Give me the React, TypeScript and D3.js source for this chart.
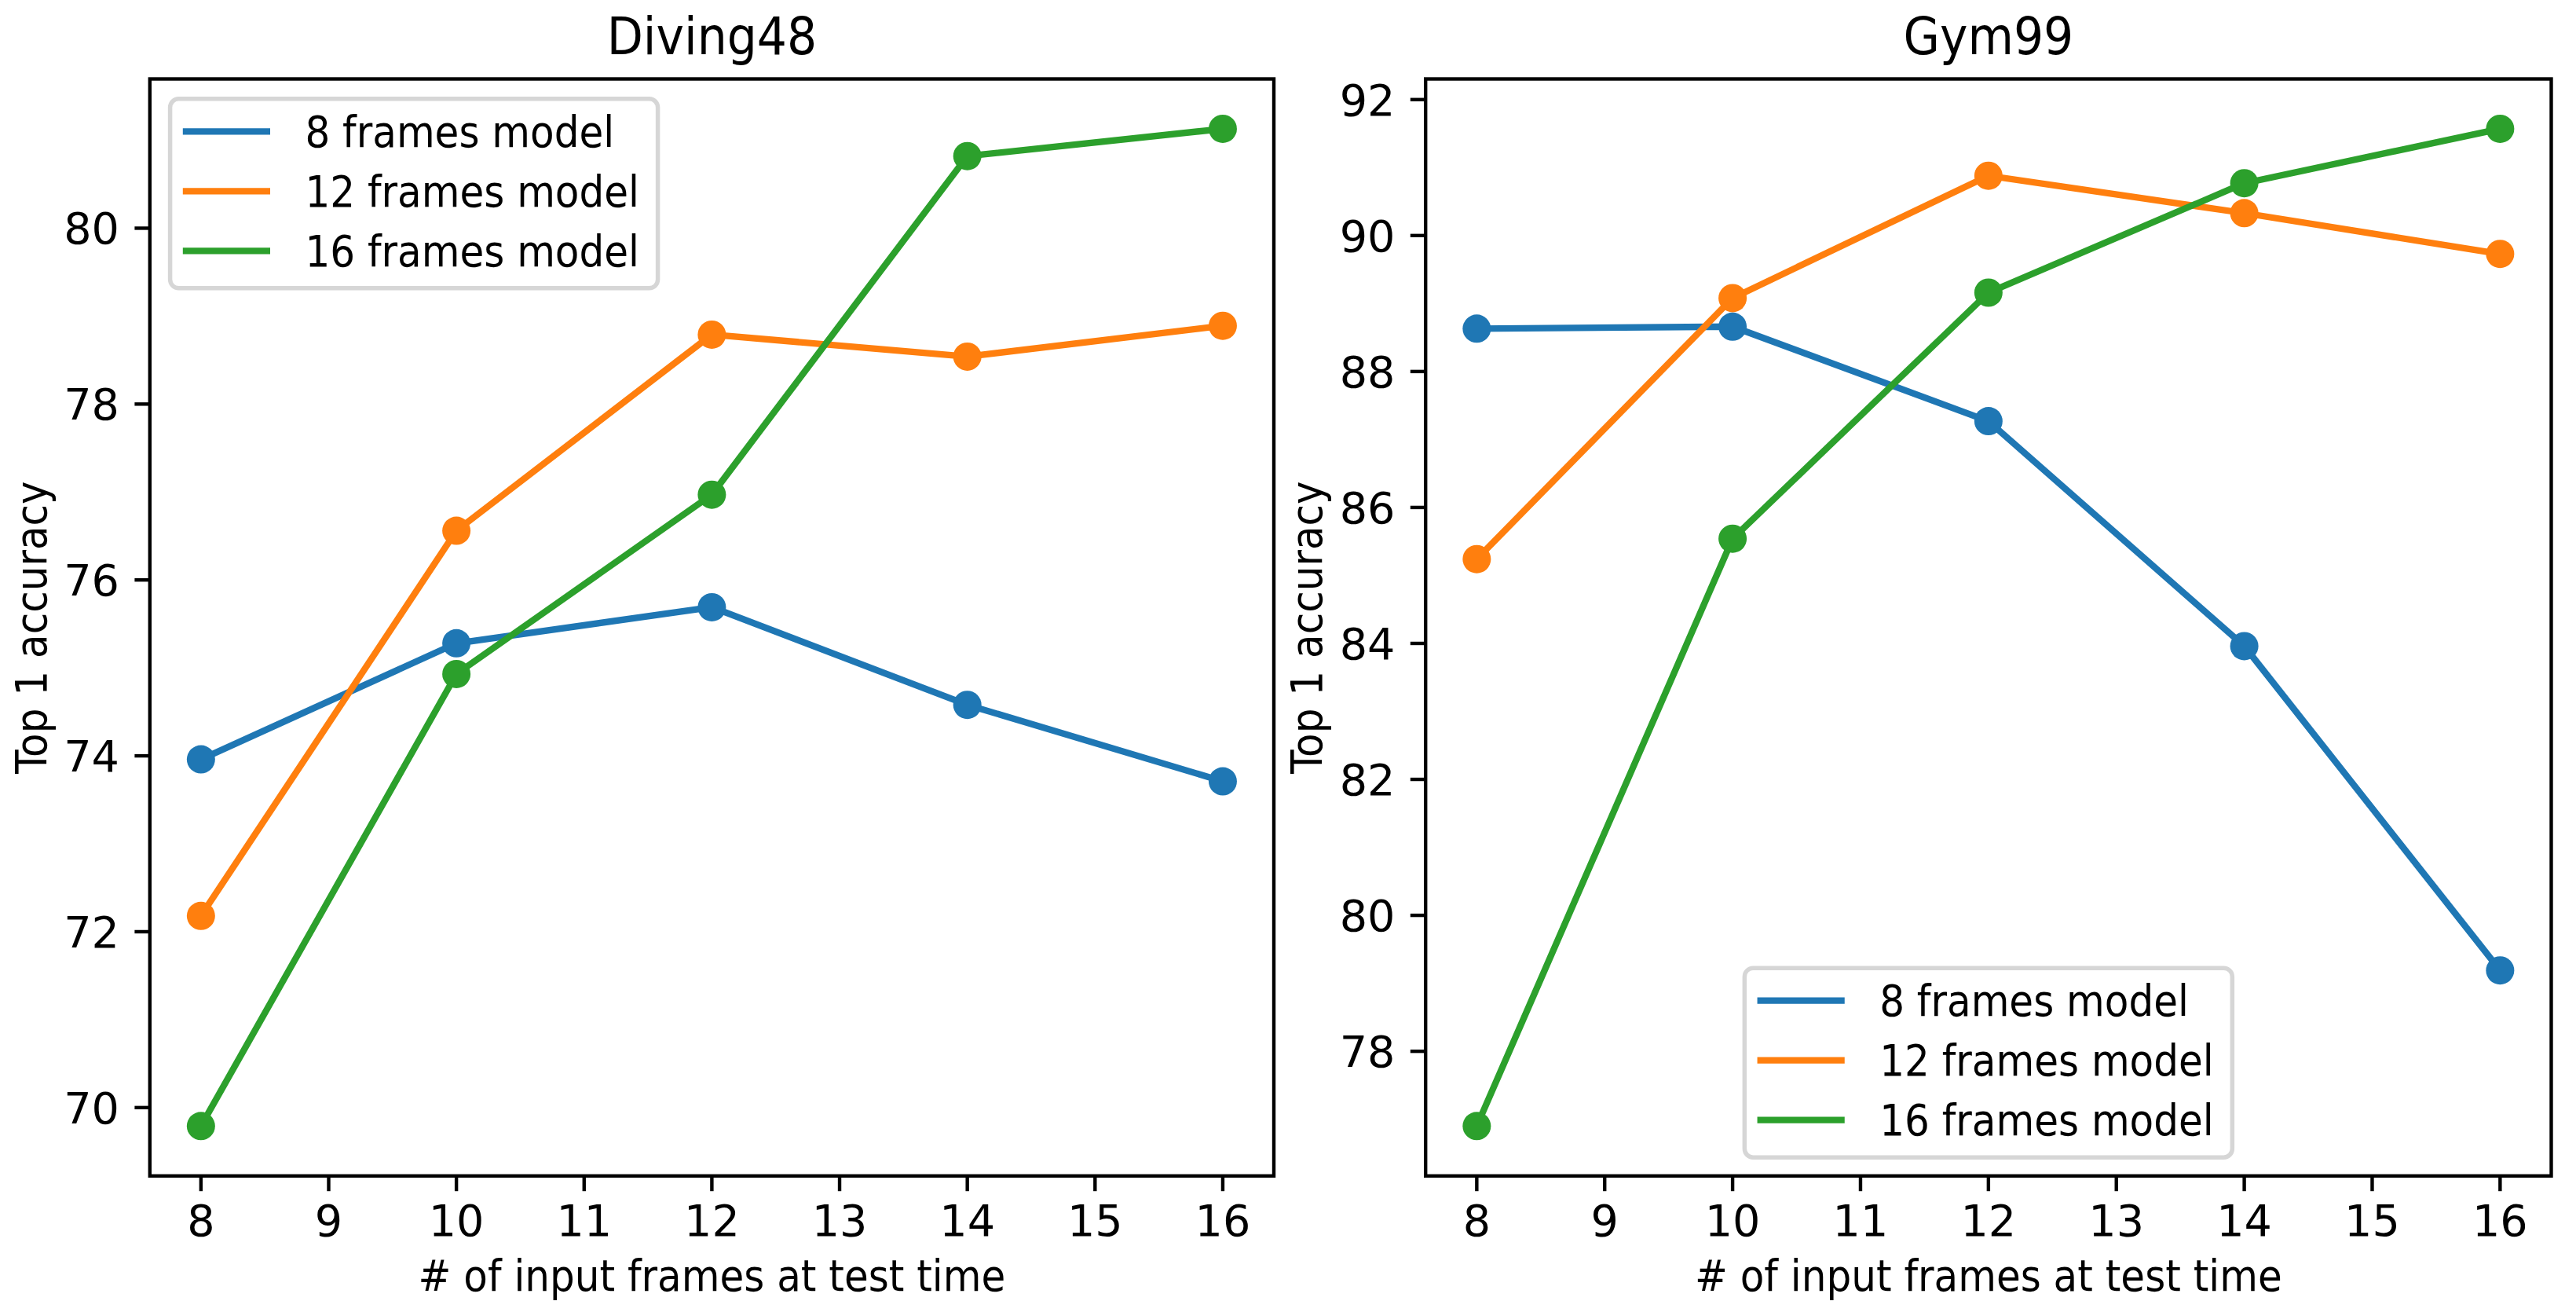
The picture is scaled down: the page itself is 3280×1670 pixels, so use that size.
import React from 'react';
import * as d3 from 'd3';

// test-time frame counts (x values)
const frames = [8, 10, 12, 14, 16];
const xTicks = [8, 9, 10, 11, 12, 13, 14, 15, 16];
const seriesNames = ['8 frames model', '12 frames model', '16 frames model'];
const colors = ['#1f77b4', '#ff7f0e', '#2ca02c'];

// Diving48
const diving8 = [73.96, 75.28, 75.69, 74.58, 73.71];
const diving12 = [72.18, 76.56, 78.79, 78.54, 78.89];
const diving16 = [69.79, 74.93, 76.97, 80.82, 81.13];
const divingTicks = [70, 72, 74, 76, 78, 80];

// Gym99
const gym8 = [88.63, 88.66, 87.27, 83.96, 79.19];
const gym12 = [85.24, 89.08, 90.88, 90.33, 89.73];
const gym16 = [76.9, 85.54, 89.16, 90.77, 91.57];
const gymTicks = [78, 80, 82, 84, 86, 88, 90, 92];

const W = 3280;
const H = 1670;
const FONT = 'DejaVu Sans';
// labels in the source come out a bit narrower than plain DejaVu
const LABEL_FONT = "'DejaVu Sans Condensed', 'DejaVu Sans'";
const FS = 55.6; // 10pt at 400 dpi
const TOP = 100.5;
const BOTTOM = 1496.8;
const LINE_W = 8.3;
const SPINE_W = 4.4;
const TICK_LEN = 19.4;

type Panel = {
  title: string;
  series: number[][];
  yTicks: number[];
  x0: number;
  x1: number;
  legend: 'upper left' | 'lower center';
};

const panels: Panel[] = [
  { title: 'Diving48', series: [diving8, diving12, diving16], yTicks: divingTicks, x0: 190.8, x1: 1622, legend: 'upper left' },
  { title: 'Gym99', series: [gym8, gym12, gym16], yTicks: gymTicks, x0: 1815.2, x1: 3248.5, legend: 'lower center' },
];

const Legend = ({ x, y }: { x: number; y: number }) => {
  const w = 621;
  const h = 241;
  return (
    <g transform={`translate(${x},${y})`}>
      <rect x={0} y={0} width={w} height={h} rx={11} fill="white" fillOpacity={0.8}
        stroke="#d6d6d6" strokeWidth={5.5} />
      {seriesNames.map((name, i) => {
        const ry = 41.5 + i * 76;
        return (
          <g key={name}>
            <line x1={16.2} x2={127.4} y1={ry} y2={ry} stroke={colors[i]} strokeWidth={LINE_W} />
            <text x={171.8} y={ry + 19.5} fontSize={FS} fontFamily={LABEL_FONT}>{name}</text>
          </g>
        );
      })}
    </g>
  );
};

const PanelView = ({ p }: { p: Panel }) => {
  const all = p.series.flat();
  const [lo, hi] = d3.extent(all) as [number, number];
  const pad = (hi - lo) * 0.05;
  const y = d3.scaleLinear().domain([lo - pad, hi + pad]).range([BOTTOM, TOP]);
  const x = d3.scaleLinear().domain([7.6, 16.4]).range([p.x0, p.x1]);
  const line = d3.line<number>().x((_, i) => x(frames[i])).y(d => y(d));
  const cx = (p.x0 + p.x1) / 2;
  const cy = (TOP + BOTTOM) / 2;

  const legendPos = p.legend === 'upper left'
    ? { x: p.x0 + 25.8, y: TOP + 25.3 }
    : { x: cx - 310.5, y: BOTTOM - 23.6 - 241 };

  return (
    <g>
      <text x={cx} y={69} textAnchor="middle" fontSize={66.7} fontFamily={LABEL_FONT}>{p.title}</text>

      {p.series.map((vals, si) => (
        <g key={si}>
          <path d={line(vals) || ''} fill="none" stroke={colors[si]} strokeWidth={LINE_W}
            strokeLinejoin="round" strokeLinecap="square" />
          {vals.map((v, i) => (
            <circle key={i} cx={x(frames[i])} cy={y(v)} r={18} fill={colors[si]} />
          ))}
        </g>
      ))}

      <Legend x={legendPos.x} y={legendPos.y} />

      {/* frame */}
      <rect x={p.x0} y={TOP} width={p.x1 - p.x0} height={BOTTOM - TOP} fill="none"
        stroke="black" strokeWidth={SPINE_W} strokeLinejoin="miter" />

      {xTicks.map(t => (
        <g key={t}>
          <line x1={x(t)} x2={x(t)} y1={BOTTOM} y2={BOTTOM + TICK_LEN} stroke="black" strokeWidth={SPINE_W} />
          <text x={x(t)} y={1573} textAnchor="middle" fontSize={FS} fontFamily={FONT}>{t}</text>
        </g>
      ))}
      {p.yTicks.map(t => (
        <g key={t}>
          <line x1={p.x0 - TICK_LEN} x2={p.x0} y1={y(t)} y2={y(t)} stroke="black" strokeWidth={SPINE_W} />
          <text x={p.x0 - 38.8} y={y(t) + 20} textAnchor="end" fontSize={FS} fontFamily={FONT}>{t}</text>
        </g>
      ))}

      <text x={cx} y={1643} textAnchor="middle" fontSize={FS} fontFamily={LABEL_FONT}>
        # of input frames at test time
      </text>
      <text transform={`translate(${p.x0 - 131.8},${cy}) rotate(-90)`} textAnchor="middle"
        fontSize={FS} fontFamily={LABEL_FONT}>Top 1 accuracy</text>
    </g>
  );
};

export default function App() {
  return (
    <svg width={W} height={H} style={{ position: 'absolute', left: 0, top: 0, background: 'white' }}>
      <rect width={W} height={H} fill="white" />
      {panels.map(p => <PanelView key={p.title} p={p} />)}
    </svg>
  );
}
